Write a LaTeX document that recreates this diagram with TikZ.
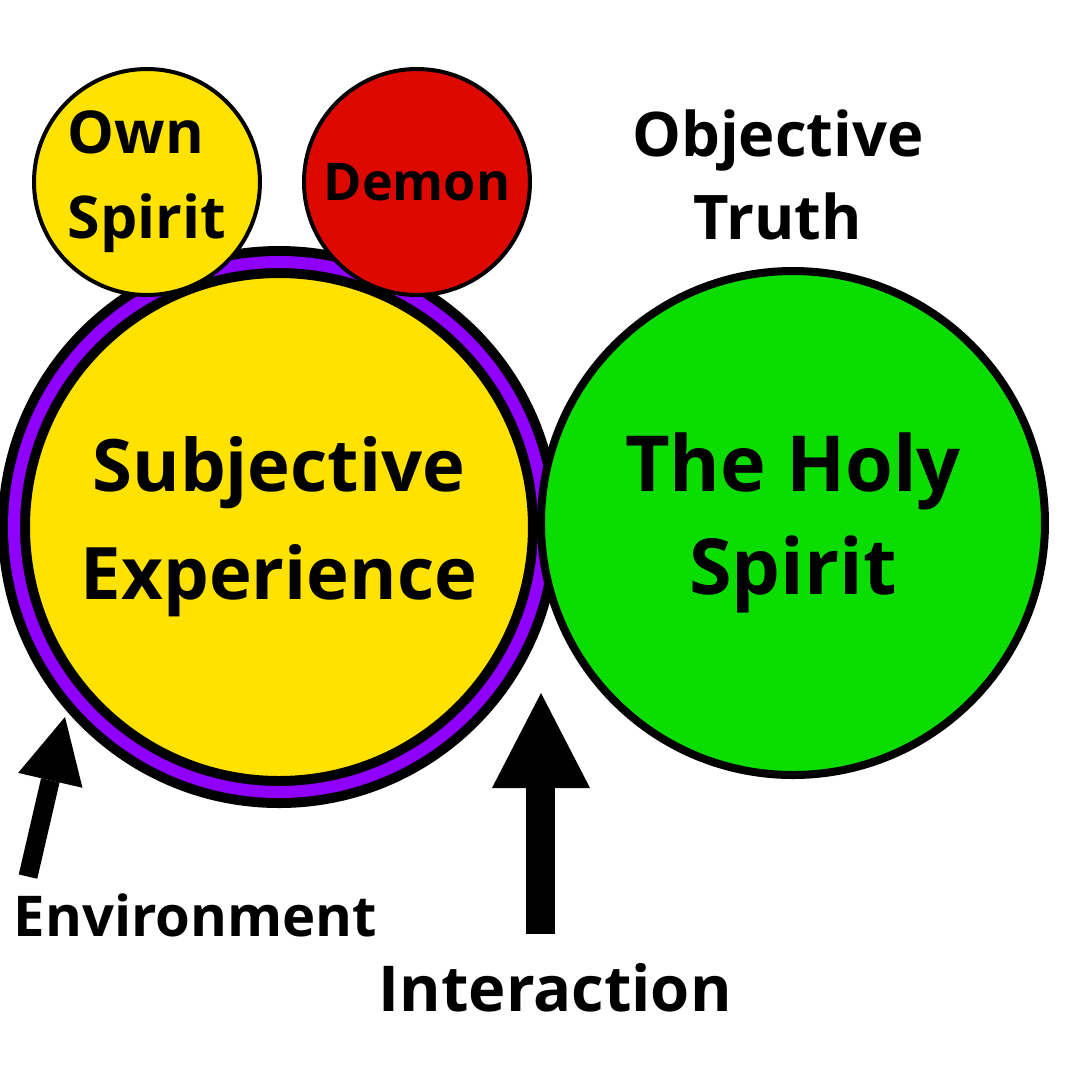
\documentclass[tikz,border=0pt]{standalone}
\usepackage{fontspec}
\setmainfont{Open Sans}[Ligatures=NoCommon]
\usetikzlibrary{arrows.meta, positioning, calc}
\definecolor{sunyellow}{RGB}{255,226,0}
\definecolor{ringpurple}{RGB}{143,0,255}
\definecolor{demonred}{RGB}{221,8,0}
\definecolor{holygreen}{RGB}{12,221,0}

\begin{document}
\begin{tikzpicture}[x=0.1mm, y=-0.1mm, node distance=51.4mm,
  every node/.style={font=\bfseries, inner sep=0pt},
  bigcircle/.style={circle, draw=black, align=center},
  smallcircle/.style={circle, draw=black, line width=0.4mm, minimum size=22.6mm},
  upline/.style={line width=#1}]
  \useasboundingbox (0,0) rectangle (1080,1080);

  % Big circles
  \node (subj) [bigcircle, fill=sunyellow, line width=1mm, double=ringpurple, double distance=1.2mm,
    minimum size=53mm, font=\bfseries\fontsize{20.6}{30.7}\selectfont] at (279,527) {Subjective\\Experience};
  \node (holy) [bigcircle, fill=holygreen, line width=0.8mm, minimum size=50.4mm,
    right of=subj, yshift=0.4mm, font=\bfseries\fontsize{22}{29.3}\selectfont] {The Holy\\Spirit};

  % Small circles
  \node (own) [smallcircle, fill=sunyellow, align=left, font=\bfseries\fontsize{16.8}{24.2}\selectfont] at (147,182) {Own\\Spirit};
  \node (demon) [smallcircle, fill=demonred, font=\bfseries\fontsize{14.8}{18}\selectfont] at (417,182) {Demon};

  % Labels
  \node (truth) [align=center, font=\bfseries\fontsize{17.5}{23.6}\selectfont] at (778,175) {Objective\\Truth};
  \node (env) [anchor=base west, font=\bfseries\fontsize{16}{20}\selectfont] at (13,936) {Environment};
  \node (inter) [anchor=base west, font=\bfseries\fontsize{18}{22}\selectfont] at (378,1011) {Interaction};

  % Arrows
  \coordinate (envtip) at (65,717);
  \coordinate (intertip) at (541,693);
  \draw[upline=1.9mm, -{Triangle[width=6.6mm, length=6.5mm, line width=0pt]}]
    ($(env.north west)+(15,-16)$) -- (envtip);
  \draw[upline=2.9mm, -{Triangle[width=9.8mm, length=9.5mm, line width=0pt]}]
    ($(inter.north -| intertip)+(0,-28)$) -- (intertip);
\end{tikzpicture}
\end{document}
